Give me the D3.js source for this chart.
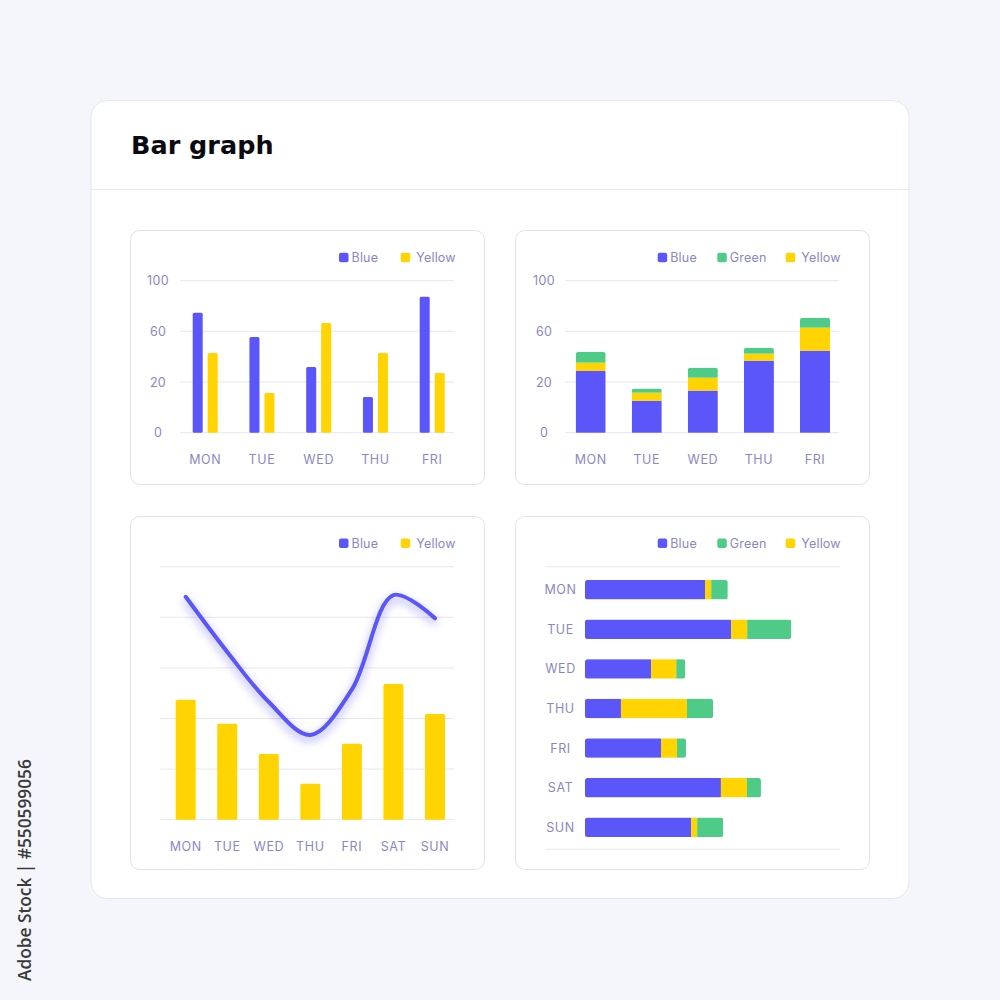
<!DOCTYPE html>
<html>
<head>
<meta charset="utf-8">
<script src="https://cdn.jsdelivr.net/npm/d3@7"></script>
<style>
  html, body { margin: 0; padding: 0; background: #f4f6fb; }
  svg { display: block; }
  text { font-family: Inter, "Noto Sans", sans-serif; }
</style>
</head>
<body>
<svg id="chart" width="1000" height="1000"></svg>
<script>
// ---------- DATA ----------
const title = "Bar graph";
const days5 = ["MON", "TUE", "WED", "THU", "FRI"];
const days7 = ["MON", "TUE", "WED", "THU", "FRI", "SAT", "SUN"];
const yTickLabels = [0, 20, 60, 100];

// Chart 1: grouped bars
const c1Blue   = [74.7, 55.5, 31.8, 14.1, 87.4];
const c1Yellow = [42.9, 15.7, 66.6, 42.9, 27.1];

// Chart 2: stacked bars (bottom -> top: Blue, Yellow, Green)
const c2Blue   = [28.7, 12.6, 16.6, 36.8, 44.7];
const c2Yellow = [6.6, 3.2, 6.8, 5.6, 18.2];
const c2Green  = [8.4, 1.6, 7.9, 4.7, 7.9];

// Chart 3: yellow bars + blue line
const c3Yellow = [47.4, 37.9, 26.0, 14.2, 30.0, 53.6, 41.8];
const c3Blue   = [88.1, 66.3, 46.5, 33.5, 51.5, 88.8, 79.6];
const c3Ticks  = [0, 20, 40, 60, 80, 100];

// Chart 4: horizontal stacked bars (left -> right: Blue, Yellow, Green)
const c4Blue   = [47.1, 57.3, 25.9, 14.1, 29.8, 53.3, 41.6];
const c4Yellow = [2.4, 6.3, 9.9, 25.9, 6.3, 10.2, 2.4];
const c4Green  = [6.5, 17.3, 3.5, 10.2, 3.5, 5.5, 10.2];

const sideNote = "Adobe Stock | #550599056";

// ---------- STYLE ----------
const BLUE = "#5a56fa", YELLOW = "#ffd400", GREEN = "#4ecb86";
const TXT = "#8a88c4", GRID = "#e6e6ee", PANEL_STROKE = "#e2e3ea";

const svg = d3.select("#chart");
const defs = svg.append("defs");

// glow filter for line
const f = defs.append("filter").attr("id", "glow")
  .attr("x", "-20%").attr("y", "-30%").attr("width", "140%").attr("height", "160%");
f.append("feGaussianBlur").attr("in", "SourceGraphic").attr("stdDeviation", 5).attr("result", "b");
f.append("feOffset").attr("in", "b").attr("dy", 4).attr("result", "o");
f.append("feComponentTransfer").attr("in", "o").attr("result", "t")
  .append("feFuncA").attr("type", "linear").attr("slope", 0.6);
const fm = f.append("feMerge");
fm.append("feMergeNode").attr("in", "t");
fm.append("feMergeNode").attr("in", "SourceGraphic");

// background card
svg.append("rect").attr("x", 91).attr("y", 100.5).attr("width", 818).attr("height", 798)
  .attr("rx", 16).attr("fill", "#ffffff").attr("stroke", "#e4e7ef").attr("stroke-width", 1);
svg.append("line").attr("x1", 91).attr("x2", 909).attr("y1", 189.5).attr("y2", 189.5)
  .attr("stroke", "#e6e8ef").attr("stroke-width", 1.2);
svg.append("text").attr("x", 131).attr("y", 153.5).text(title)
  .attr("font-size", 25.5).attr("font-weight", 700).attr("fill", "#0b0b0f")
  .style("font-family", "'DejaVu Sans', sans-serif");

// side note
svg.append("text").attr("transform", "translate(31,981) rotate(-90)")
  .text(sideNote).attr("font-size", 17.3).attr("font-weight", 600).attr("fill", "#3a3a3a")
  .style("font-family", "'Open Sans', sans-serif");

// panels
const panels = [[130.5, 230.5], [515.5, 230.5], [130.5, 516.5], [515.5, 516.5]];
const panelH = [254, 254, 353, 353];
panels.forEach((p, i) => {
  svg.append("rect").attr("x", p[0]).attr("y", p[1]).attr("width", 354).attr("height", panelH[i])
    .attr("rx", 9).attr("fill", "#fff").attr("stroke", PANEL_STROKE);
});

function legend(items, xs, y) {
  items.forEach((it, i) => {
    svg.append("rect").attr("x", xs[i]).attr("y", y).attr("width", 9.5).attr("height", 9.5)
      .attr("rx", 2).attr("fill", it[1]);
    svg.append("text").attr("x", xs[i] + (it[0] === "Yellow" ? 15.5 : 12.5)).attr("y", y + 9.3)
      .text(it[0]).attr("font-size", 12.5).attr("letter-spacing", 0.2).attr("fill", TXT);
  });
}

// ---------- CHART 1 ----------
{
  const y = d3.scaleLinear().domain(yTickLabels).range([432.7, 382, 331.3, 280.7]);
  const x = d3.scalePoint().domain(days5).range([205.2, 432.2]);
  const g = svg.append("g");
  g.selectAll(".grid").data(yTickLabels).join("line")
    .attr("x1", 180).attr("x2", 454).attr("y1", d => y(d)).attr("y2", d => y(d))
    .attr("stroke", GRID).attr("stroke-width", 1);
  g.selectAll(".yl").data(yTickLabels).join("text")
    .attr("x", 158).attr("y", d => y(d)).attr("dy", "0.36em").attr("text-anchor", "middle")
    .attr("font-size", 12.5).attr("letter-spacing", 0.3).attr("fill", TXT).text(d => d);
  const bw = 10, gap = 5;
  g.selectAll(".b").data(days5).join("rect")
    .attr("x", d => x(d) - gap / 2 - bw).attr("width", bw)
    .attr("y", (d, i) => y(c1Blue[i])).attr("height", (d, i) => y(0) - y(c1Blue[i]))
    .attr("rx", 1.5).attr("fill", BLUE);
  g.selectAll(".yb").data(days5).join("rect")
    .attr("x", d => x(d) + gap / 2).attr("width", bw)
    .attr("y", (d, i) => y(c1Yellow[i])).attr("height", (d, i) => y(0) - y(c1Yellow[i]))
    .attr("rx", 1.5).attr("fill", YELLOW);
  g.selectAll(".xl").data(days5).join("text")
    .attr("x", d => x(d)).attr("y", 463.5).attr("text-anchor", "middle")
    .attr("font-size", 12.5).attr("letter-spacing", 0.6).attr("fill", TXT).text(d => d);
  legend([["Blue", BLUE], ["Yellow", YELLOW]], [339, 400.7], 252.8);
}

// ---------- CHART 2 ----------
{
  const y = d3.scaleLinear().domain(yTickLabels).range([432.7, 382, 331.3, 280.7]);
  const x = d3.scalePoint().domain(days5).range([590.7, 815]);
  const g = svg.append("g");
  g.selectAll(".grid").data(yTickLabels).join("line")
    .attr("x1", 565).attr("x2", 839).attr("y1", d => y(d)).attr("y2", d => y(d))
    .attr("stroke", GRID).attr("stroke-width", 1);
  g.selectAll(".yl").data(yTickLabels).join("text")
    .attr("x", 544).attr("y", d => y(d)).attr("dy", "0.36em").attr("text-anchor", "middle")
    .attr("font-size", 12.5).attr("letter-spacing", 0.3).attr("fill", TXT).text(d => d);
  const rows = days5.map((d, i) => ({ day: d, Blue: c2Blue[i], Yellow: c2Yellow[i], Green: c2Green[i] }));
  const keys = ["Blue", "Yellow", "Green"];
  const colors = { Blue: BLUE, Yellow: YELLOW, Green: GREEN };
  const series = d3.stack().keys(keys)(rows);
  const bw = 30;
  rows.forEach((r, i) => {
    const top = series[series.length - 1][i][1];
    defs.append("clipPath").attr("id", "c2clip" + i).append("rect")
      .attr("x", x(r.day) - bw / 2).attr("width", bw).attr("y", y(top)).attr("height", y(0) - y(top) + 3)
      .attr("rx", 2.5);
  });
  series.forEach(s => {
    g.append("g").selectAll("rect").data(s).join("rect")
      .attr("clip-path", (d, i) => `url(#c2clip${i})`)
      .attr("x", d => x(d.data.day) - bw / 2).attr("width", bw)
      .attr("y", d => y(d[1])).attr("height", d => y(d[0]) - y(d[1]))
      .attr("fill", colors[s.key]);
  });
  g.selectAll(".xl").data(days5).join("text")
    .attr("x", d => x(d)).attr("y", 463.5).attr("text-anchor", "middle")
    .attr("font-size", 12.5).attr("letter-spacing", 0.6).attr("fill", TXT).text(d => d);
  legend([["Blue", BLUE], ["Green", GREEN], ["Yellow", YELLOW]], [657.7, 717.3, 785.7], 252.8);
}

// ---------- CHART 3 ----------
{
  const y = d3.scaleLinear().domain([0, 100]).range([819.7, 566.7]);
  const x = d3.scalePoint().domain(days7).range([185.7, 435]);
  const g = svg.append("g");
  g.selectAll(".grid").data(c3Ticks).join("line")
    .attr("x1", 160).attr("x2", 454).attr("y1", d => y(d)).attr("y2", d => y(d))
    .attr("stroke", GRID).attr("stroke-width", 1);
  const bw = 20;
  g.selectAll(".yb").data(days7).join("rect")
    .attr("x", d => x(d) - bw / 2).attr("width", bw)
    .attr("y", (d, i) => y(c3Yellow[i])).attr("height", (d, i) => y(0) - y(c3Yellow[i]))
    .attr("rx", 1.5).attr("fill", YELLOW);
  const line = d3.line().x((d, i) => x(days7[i])).y(d => y(d)).curve(d3.curveCatmullRom.alpha(0.5));
  g.append("path").datum(c3Blue).attr("d", line).attr("fill", "none")
    .attr("stroke", BLUE).attr("stroke-width", 4).attr("stroke-linecap", "round")
    .attr("filter", "url(#glow)");
  g.selectAll(".xl").data(days7).join("text")
    .attr("x", d => x(d)).attr("y", 850.5).attr("text-anchor", "middle")
    .attr("font-size", 12.5).attr("letter-spacing", 0.6).attr("fill", TXT).text(d => d);
  legend([["Blue", BLUE], ["Yellow", YELLOW]], [339, 400.7], 538.5);
}

// ---------- CHART 4 ----------
{
  const x = d3.scaleLinear().domain([0, 100]).range([585, 840]);
  const y = d3.scalePoint().domain(days7).range([589.7, 827.3]);
  const g = svg.append("g");
  [566.7, 849.3].forEach(v => g.append("line").attr("x1", 545).attr("x2", 840)
    .attr("y1", v).attr("y2", v).attr("stroke", GRID).attr("stroke-width", 1));
  const rows = days7.map((d, i) => ({ day: d, Blue: c4Blue[i], Yellow: c4Yellow[i], Green: c4Green[i] }));
  const keys = ["Blue", "Yellow", "Green"];
  const colors = { Blue: BLUE, Yellow: YELLOW, Green: GREEN };
  const series = d3.stack().keys(keys)(rows);
  const bh = 19.5;
  rows.forEach((r, i) => {
    const end = series[series.length - 1][i][1];
    defs.append("clipPath").attr("id", "c4clip" + i).append("rect")
      .attr("x", x(0)).attr("width", x(end) - x(0)).attr("y", y(r.day) - bh / 2).attr("height", bh)
      .attr("rx", 2.5);
  });
  series.forEach(s => {
    g.append("g").selectAll("rect").data(s).join("rect")
      .attr("clip-path", (d, i) => `url(#c4clip${i})`)
      .attr("y", d => y(d.data.day) - bh / 2).attr("height", bh)
      .attr("x", d => x(d[0])).attr("width", d => x(d[1]) - x(d[0]))
      .attr("fill", colors[s.key]);
  });
  g.selectAll(".yl").data(days7).join("text")
    .attr("x", 560.5).attr("y", d => y(d)).attr("dy", "0.36em").attr("text-anchor", "middle")
    .attr("font-size", 12.5).attr("letter-spacing", 0.6).attr("fill", TXT).text(d => d);
  legend([["Blue", BLUE], ["Green", GREEN], ["Yellow", YELLOW]], [657.7, 717.3, 785.7], 538.5);
}
</script>
</body>
</html>
